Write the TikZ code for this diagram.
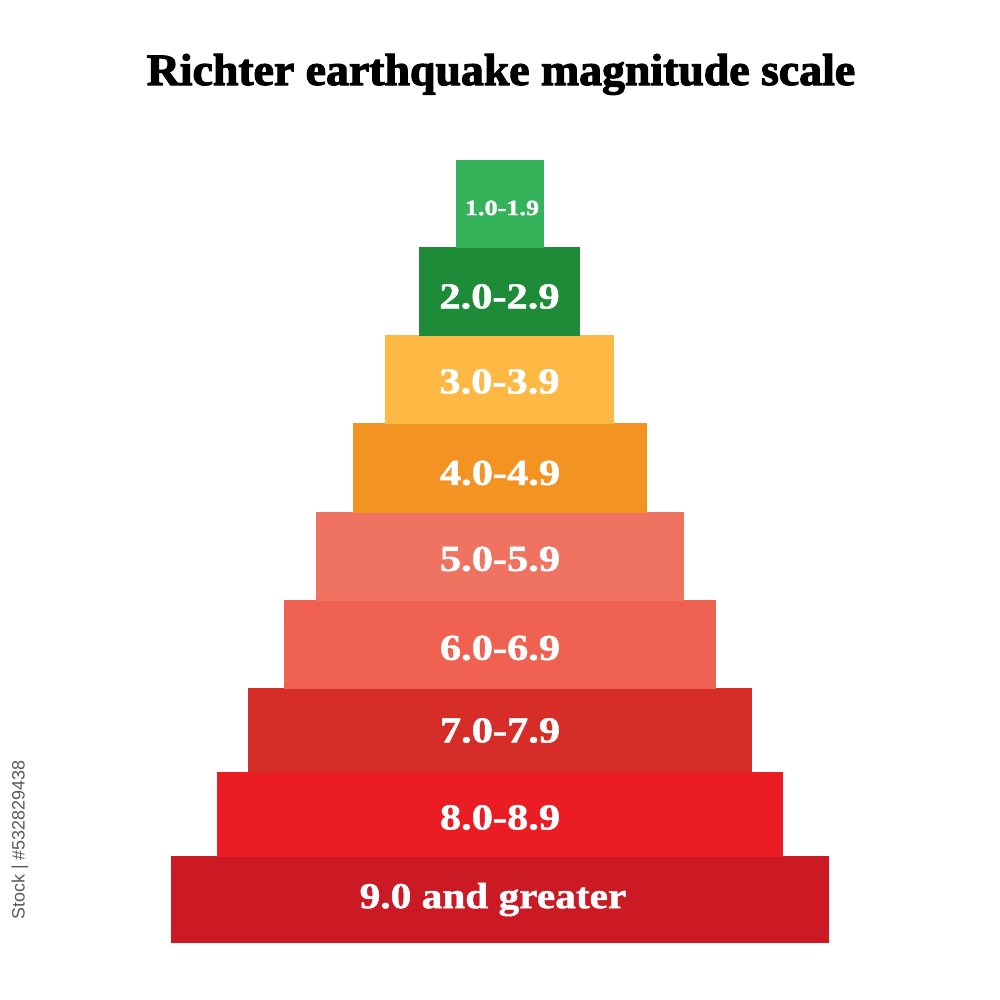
\documentclass[tikz,border=0pt]{standalone}
\usepackage{fontspec}
\setmainfont{Liberation Serif}
\newfontfamily\wmfont{Liberation Sans}
\newfontfamily\labfont[FakeBold=1.2]{Liberation Serif Bold}
\newfontfamily\titfont[FakeBold=2.5]{Liberation Serif Bold}
\definecolor{cA}{HTML}{34B35A}
\definecolor{cB}{HTML}{1E8B39}
\definecolor{cC}{HTML}{FDB944}
\definecolor{cD}{HTML}{F39322}
\definecolor{cE}{HTML}{F07261}
\definecolor{cF}{HTML}{EF6150}
\definecolor{cG}{HTML}{D62D28}
\definecolor{cH}{HTML}{EC1C24}
\definecolor{cI}{HTML}{CB1A23}
\definecolor{wm}{HTML}{5A5A5A}
\newcommand{\wlab}[1]{\scalebox{1.16}[1]{#1}}
\begin{document}
\begin{tikzpicture}[x=0.01cm,y=-0.01cm,
  tier/.style={rectangle, inner sep=0pt, outer sep=0pt, draw=none},
  lab/.style={inner sep=0pt, text=white, font=\labfont\fontsize{10.4}{12}\selectfont}]
\useasboundingbox[fill=white] (0,0) rectangle (1000,1000);
\node[anchor=base] (title) at (501,85) {\resizebox{7.08cm}{0.31cm}{\titfont Richter earthquake magnitude scale}};
% tiers
\node[tier, fill=cI, minimum width=6.58cm, minimum height=0.875cm] (t9) at (500,899.5) {};
\node[tier, fill=cH, minimum width=5.66cm, minimum height=0.85cm] (t8) at (500,814.5) {};
\node[tier, fill=cG, minimum width=5.04cm, minimum height=0.85cm] (t7) at (500,730.5) {};
\node[tier, fill=cF, minimum width=4.32cm, minimum height=0.89cm] (t6) at (500,644.5) {};
\node[tier, fill=cE, minimum width=3.68cm, minimum height=0.89cm] (t5) at (500,556.5) {};
\node[tier, fill=cD, minimum width=2.94cm, minimum height=0.895cm] (t4) at (500,468) {};
\node[tier, fill=cC, minimum width=2.29cm, minimum height=0.885cm] (t3) at (499.5,379.5) {};
\node[tier, fill=cB, minimum width=1.61cm, minimum height=0.885cm] (t2) at (499.5,291.5) {};
\node[tier, fill=cA, minimum width=0.88cm, minimum height=0.88cm] (t1) at (500,204) {};
% labels
\node[lab] (l9) at ([xshift=-0.07cm]t9.center) {\scalebox{1.13}[1]{9.0 and greater}};
\node[lab] (l8) at ([yshift=-0.03cm]t8.center) {\wlab{8.0-8.9}};
\node[lab] (l7) at (t7.center) {\wlab{7.0-7.9}};
\node[lab] (l6) at ([yshift=-0.035cm]t6.center) {\wlab{6.0-6.9}};
\node[lab] (l5) at ([yshift=-0.025cm]t5.center) {\wlab{5.0-5.9}};
\node[lab] (l4) at ([yshift=-0.05cm]t4.center) {\wlab{4.0-4.9}};
\node[lab] (l3) at ([yshift=-0.02cm]t3.center) {\wlab{3.0-3.9}};
\node[lab] (l2) at ([yshift=-0.05cm]t2.center) {\wlab{2.0-2.9}};
\node[lab, font=\labfont\fontsize{6.2}{8}\selectfont] (l1) at ([yshift=-0.04cm,xshift=0.02cm]t1.center) {\scalebox{1.2}[1]{1.0-1.9}};
\node[rotate=90, text=wm, font=\wmfont\fontsize{5.1}{6}\selectfont, inner sep=0pt] (wmid) at (20,840) {Stock | \#532829438};
\end{tikzpicture}
\end{document}
